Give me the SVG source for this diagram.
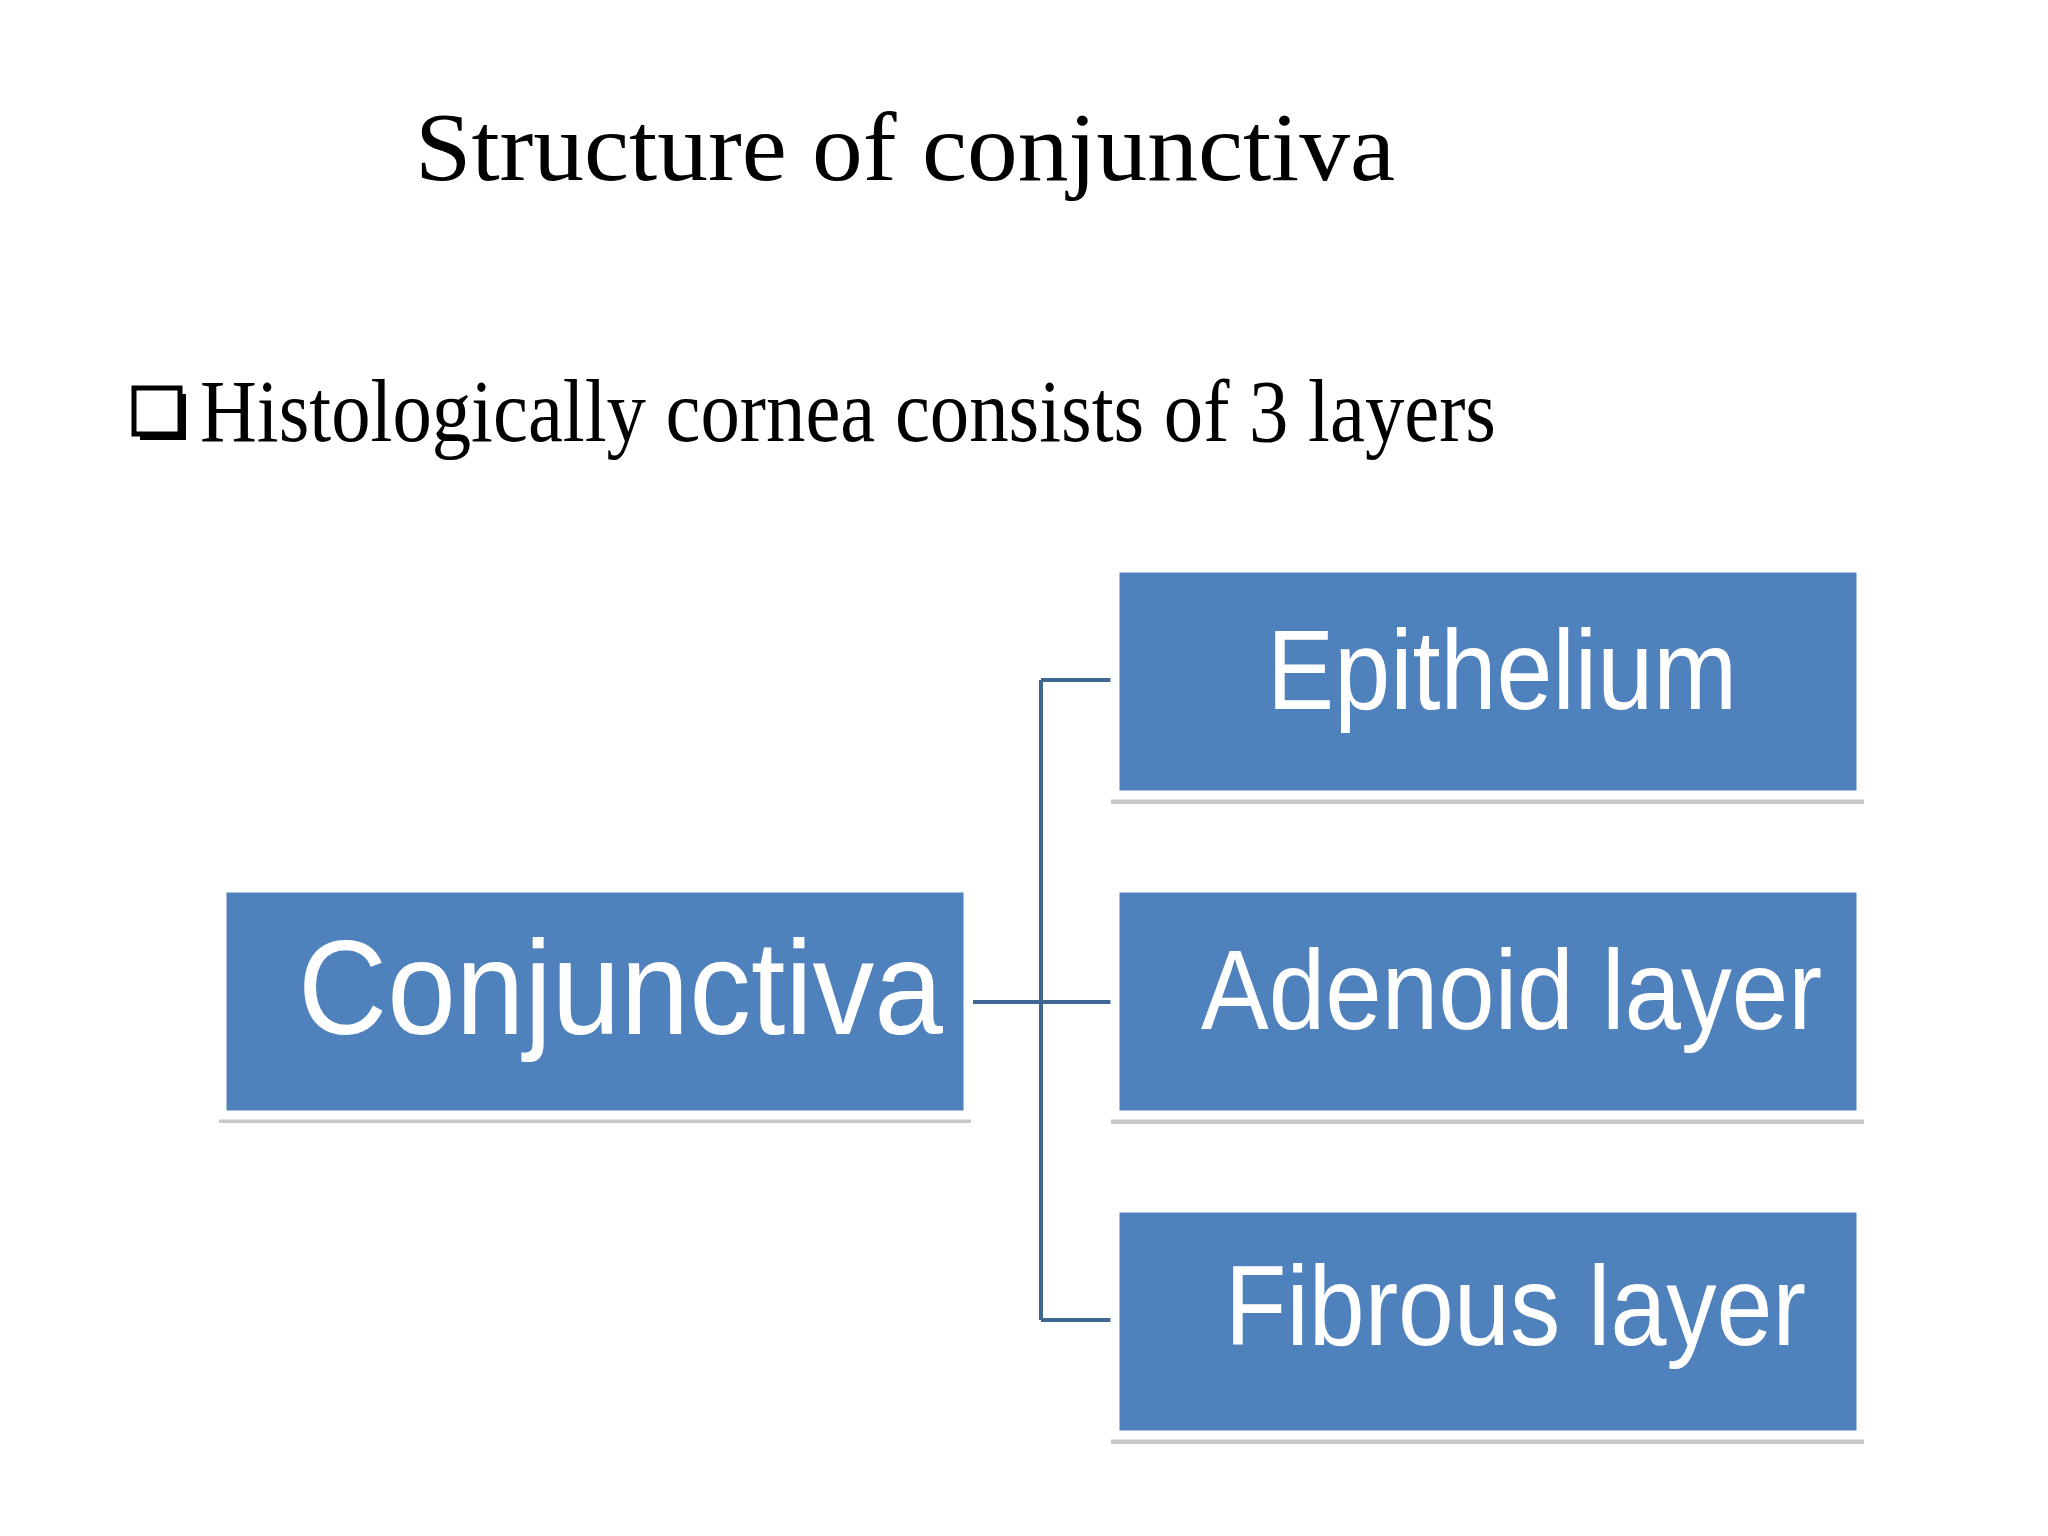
<svg xmlns="http://www.w3.org/2000/svg" width="2048" height="1536" viewBox="0 0 2048 1536">
<style>
.box{fill:#4f81bd;stroke:#fff;stroke-width:9}
.sh{fill:#c8c8c8}
.lbl{font-family:"Liberation Sans",Arial,sans-serif;fill:#fff}
.ser{font-family:"Liberation Serif","Times New Roman",serif;fill:#000}
.con{fill:none;stroke:#3f6793;stroke-width:4}
</style>
<rect width="2048" height="1536" fill="#fff"/>
<text class="ser" x="415" y="180" font-size="98" textLength="980" lengthAdjust="spacingAndGlyphs">Structure of conjunctiva</text>
<g id="bullet">
<rect x="134" y="388" width="46" height="46" fill="#fff" stroke="#000" stroke-width="5"/>
<rect x="180" y="394" width="6" height="46" fill="#000"/>
<rect x="140" y="434" width="46" height="6" fill="#000"/>
<text class="ser" x="200" y="441" font-size="88" textLength="1296" lengthAdjust="spacingAndGlyphs">Histologically cornea consists of 3 layers</text>
</g>
<g id="connectors">
<path class="con" d="M973 1002H1111M1041 680V1320M1041 680H1111M1041 1320H1111"/>
</g>
<g id="conjunctiva">
<rect class="sh" x="219" y="895" width="752" height="228"/>
<rect class="box" x="222" y="888" width="746" height="227"/>
<text class="lbl" x="298" y="1034" font-size="134" textLength="645" lengthAdjust="spacingAndGlyphs">Conjunctiva</text>
</g>
<g id="epithelium">
<rect class="sh" x="1111" y="575" width="753" height="229"/>
<rect class="box" x="1115" y="568" width="746" height="227"/>
<text class="lbl" x="1267" y="709" font-size="113" textLength="470" lengthAdjust="spacingAndGlyphs">Epithelium</text>
</g>
<g id="adenoid">
<rect class="sh" x="1111" y="895" width="753" height="229"/>
<rect class="box" x="1115" y="888" width="746" height="227"/>
<text class="lbl" x="1201" y="1029" font-size="113" textLength="621" lengthAdjust="spacingAndGlyphs">Adenoid layer</text>
</g>
<g id="fibrous">
<rect class="sh" x="1111" y="1215" width="753" height="229"/>
<rect class="box" x="1115" y="1208" width="746" height="227"/>
<text class="lbl" x="1225" y="1345" font-size="113" textLength="581" lengthAdjust="spacingAndGlyphs">Fibrous layer</text>
</g>
</svg>
